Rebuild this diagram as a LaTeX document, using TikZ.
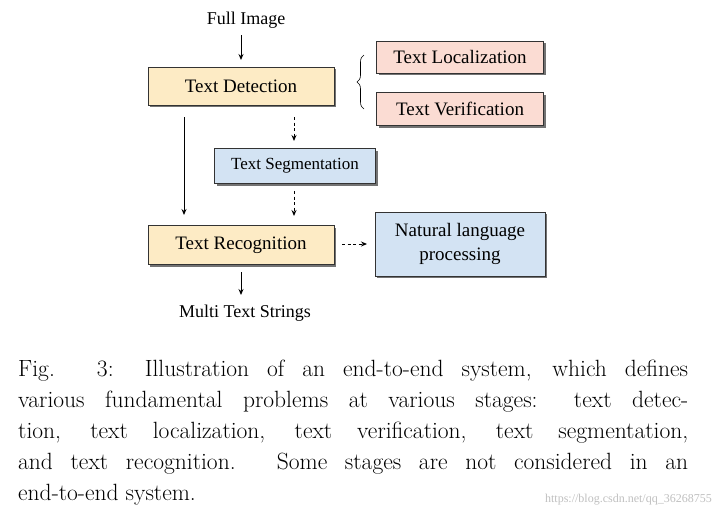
\documentclass[tikz,border=0pt]{standalone}
\usepackage{fontspec}
\setmainfont{Liberation Serif}
\newfontfamily\capfont{Latin Modern Roman}
\usetikzlibrary{shadows,decorations.pathreplacing,arrows.meta}
\definecolor{orf}{HTML}{FDEBC5}
\definecolor{pkf}{HTML}{FBDCD3}
\definecolor{blf}{HTML}{D3E3F3}
\tikzset{
 box/.style={draw=black!80,line width=0.8pt,inner sep=0pt,align=center,font=\fontsize{19}{24}\selectfont,
   drop shadow={shadow xshift=2pt,shadow yshift=-2pt,fill=black!55,opacity=1}},
 arr/.style={-{Stealth[length=6pt,width=5pt]},line width=0.9pt},
 darr/.style={arr,dashed,dash pattern=on 3pt off 2.5pt},
 lbl/.style={font=\fontsize{18}{22}\selectfont}
}
\begin{document}
\begin{tikzpicture}[x=1pt,y=-1pt]
\useasboundingbox (0,0) rectangle (721,515);
\node[box,fill=orf,minimum width=186pt,minimum height=38pt] (det) at (241,86) {Text Detection};
\node[box,fill=pkf,minimum width=167pt,minimum height=32pt] (loc) at (460,57) {Text Localization};
\node[box,fill=pkf,minimum width=167pt,minimum height=33pt] (ver) at (460,109) {Text Verification};
\node[box,fill=blf,minimum width=161pt,minimum height=35pt,font=\fontsize{17}{21}\selectfont] (seg) at (295,166) {Text Segmentation};
\node[box,fill=orf,minimum width=186pt,minimum height=39pt] (rec) at (241,245) {Text Recognition};
\node[box,fill=blf,minimum width=170pt,minimum height=64pt] (nlp) at (460,244) {Natural language\\processing};
\node[lbl] (full) at (246,20) {Full Image};
\node[lbl] (multi) at (245,313) {Multi Text Strings};
\coordinate (a1) at (241,35); \coordinate (a2) at (241,60);
\coordinate (b1) at (184,117); \coordinate (b2) at (184,215);
\coordinate (c1) at (294,117); \coordinate (c2) at (294,141);
\coordinate (d1) at (294,191); \coordinate (d2) at (294,216);
\coordinate (e1) at (342,244); \coordinate (e2) at (367,244);
\coordinate (f1) at (241,272); \coordinate (f2) at (241,295);
\draw[arr] (a1) -- (a2);
\draw[arr] (b1) -- (b2);
\draw[darr] (c1) -- (c2);
\draw[darr] (d1) -- (d2);
\draw[darr] (e1) -- (e2);
\draw[arr] (f1) -- (f2);
\draw[line width=0.6pt,decorate,decoration={brace,amplitude=7pt}] (364,109) -- (364,55);
\node[anchor=north west,inner sep=0pt,align=left,font=\capfont\fontsize{23.5}{31}\selectfont] (cap) at (18,360) {%
\makebox[670pt][s]{Fig. 3: Illustration of an end-to-end system, which defines}\\
\makebox[670pt][s]{various fundamental problems at various stages: text detec-}\\
\makebox[670pt][s]{tion, text localization, text verification, text segmentation,}\\
\makebox[670pt][s]{and text recognition. Some stages are not considered in an}\\
end-to-end system.};
\node[anchor=base east,text=black!25,font=\fontsize{12}{14}\selectfont,inner sep=0pt] (wm) at (712,502) {https://blog.csdn.net/qq\_36268755};
\end{tikzpicture}
\end{document}
